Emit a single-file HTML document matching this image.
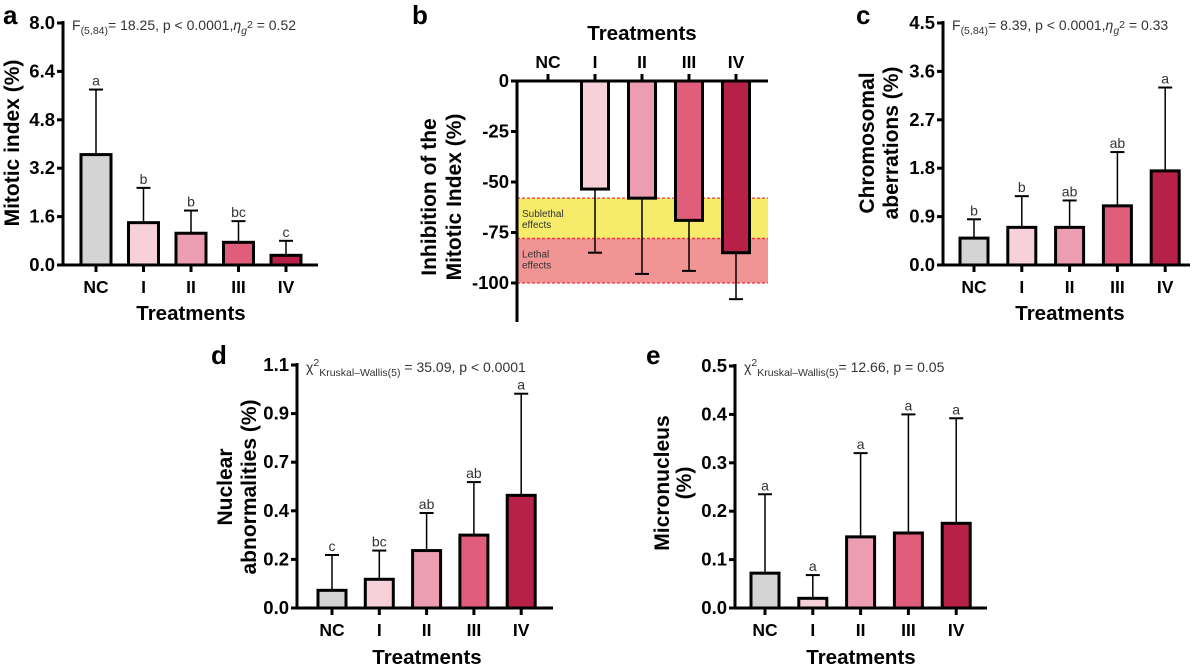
<!DOCTYPE html>
<html><head><meta charset="utf-8">
<style>
html,body{margin:0;padding:0;background:#fff;}
svg{display:block;font-family:"Liberation Sans",Arial,sans-serif;}
</style></head>
<body>
<svg id="fig" width="1200" height="667" viewBox="0 0 1200 667"></svg>
<script>
const cats = ["NC","I","II","III","IV"];
const barColors = ["#d4d4d4","#f6d1da","#ed9db1","#e05d7b","#b82147"];

const aMeans = [3.65,1.4,1.05,0.75,0.32];
const aErrTop = [5.8,2.55,1.8,1.45,0.8];
const aLetters = ["a","b","b","bc","c"];
const aTicks = [0,1.6,3.2,4.8,6.4,8.0];
const aTickLabels = ["0.0","1.6","3.2","4.8","6.4","8.0"];

const bMeans = [0,-53.5,-58,-69,-85];
const bErrBottom = [0,-85,-95.5,-94,-108];
const bTicks = [0,-25,-50,-75,-100];
const bTickLabels = ["0","-25","-50","-75","-100"];
const bSublethal = [-58,-78];
const bLethal = [-78,-100];

const cMeans = [0.5,0.7,0.7,1.1,1.75];
const cErrTop = [0.85,1.28,1.2,2.1,3.3];
const cLetters = ["b","b","ab","ab","a"];
const cTicks = [0,0.9,1.8,2.7,3.6,4.5];
const cTickLabels = ["0.0","0.9","1.8","2.7","3.6","4.5"];

const dMeans = [0.08,0.13,0.26,0.33,0.51];
const dErrTop = [0.24,0.26,0.43,0.57,0.97];
const dLetters = ["c","bc","ab","ab","a"];
const dTicks = [0,0.22,0.44,0.66,0.88,1.1];
const dTickLabels = ["0.0","0.2","0.4","0.7","0.9","1.1"];

const eMeans = [0.072,0.02,0.147,0.155,0.175];
const eErrTop = [0.235,0.068,0.32,0.40,0.392];
const eLetters = ["a","a","a","a","a"];
const eTicks = [0,0.1,0.2,0.3,0.4,0.5];
const eTickLabels = ["0.0","0.1","0.2","0.3","0.4","0.5"];

const NS = "http://www.w3.org/2000/svg";
const svg = document.getElementById("fig");
function mk(tag, attrs, parent){
  const el = document.createElementNS(NS, tag);
  for (const k in attrs) el.setAttribute(k, attrs[k]);
  (parent||svg).appendChild(el);
  return el;
}
function txt(x,y,s,size,weight,anchor,parent,fill){
  const t = mk("text",{x:x,y:y,"font-size":size,"font-weight":weight||"normal","text-anchor":anchor||"middle",fill:fill||"#000"},parent);
  t.textContent = s;
  return t;
}

function drawPanel(p){
  const g = mk("g",{});
  
  
  const y = v => p.yA + (v - p.vA)/(p.vB - p.vA)*(p.yB - p.yA);
  const xc = i => p.c0 + i*p.step;
  const y0 = y(0);
  if (p.bands){
    p.bands.forEach(b=>{
      const r = mk("rect",{x:p.axisX,y:y(b.range[0]),width:p.xEnd-p.axisX,height:y(b.range[1])-y(b.range[0]),fill:b.fill},g);
      
      
      [b.range[0],b.range[1]].forEach(v=>{
        const l = mk("line",{x1:p.axisX,x2:p.xEnd,y1:y(v),y2:y(v),stroke:"#ee3344","stroke-width":1.3,"stroke-dasharray":"3,2"},g);
        
        
      });
      b.label.forEach((s,k)=>{
        const t = txt(p.axisX+5, y(b.range[0]) + 19 + k*11, s, 10, "normal", "start", g, "#333");
        
        
      });
    });
  }
  for (let i=0;i<cats.length;i++){
    const m = p.means[i];
    if (m===0 && p.skipZero) continue;
    const top = Math.min(y(m), y0), h = Math.abs(y(m)-y0);
    const r = mk("rect",{x:xc(i)-p.bw/2,y:top,width:p.bw,height:h,fill:barColors[i],stroke:"#000","stroke-width":3},g);
    
    
    const ev = p.errs[i];
    const el = mk("line",{x1:xc(i),x2:xc(i),y1:y(m),y2:y(ev),stroke:"#000","stroke-width":1.5},g);
    
    
    const cap = mk("line",{x1:xc(i)-7,x2:xc(i)+7,y1:y(ev),y2:y(ev),stroke:"#000","stroke-width":2},g);
    
    
    if (p.letters){
      const t = txt(xc(i), y(ev)-4, p.letters[i], 14, "normal", "middle", g, "#333");
      
      
    }
  }
  const ya = mk("line",{x1:p.axisX,x2:p.axisX,y1:p.axisTop,y2:p.axisBottom,stroke:"#000","stroke-width":3},g);
  
  
  const xa = mk("line",{x1:p.axisX-6,x2:p.xEnd,y1:y0,y2:y0,stroke:"#000","stroke-width":3},g);
  
  
  p.ticks.forEach((v,k)=>{
    const tk = mk("line",{x1:p.axisX-6,x2:p.axisX,y1:y(v),y2:y(v),stroke:"#000","stroke-width":3},g);
    
    
    const t = txt(p.axisX-8, y(v)+6, p.tickLabels[k], 18.5, "bold", "end", g);
    
    
  });
  const dir = p.top ? -1 : 1;
  for (let i=0;i<cats.length;i++){
    const tk = mk("line",{x1:xc(i),x2:xc(i),y1:y0,y2:y0+dir*7,stroke:"#000","stroke-width":3},g);
    
    
    const t = txt(xc(i), p.top ? y0-13 : y0+28, cats[i], 17.5, "bold", "middle", g);
    
    
  }
  const xt = txt(p.xTitleX, p.xTitleY, "Treatments", 20.5, "bold", "middle", g);
  
  
  p.yTitle.forEach((s,k)=>{
    const t = txt(0,0,s,21,"bold","middle",g);
    t.setAttribute("transform","translate("+p.yTitleX[k]+","+p.yTitleY+") rotate(-90)");
    
    
  });
  const pl = txt(p.letterX, p.letterY, p.letter, 26, "bold", "start", g);
  
  
  if (p.stat){
    const st = mk("text",{x:p.axisX+9,y:p.statY,"font-size":14,fill:"#333"},g);
    
    
    p.stat.forEach(seg=>{
      const ts = mk("tspan",{},st);
      if (seg.sub){ ts.setAttribute("font-size","10.5"); ts.setAttribute("dy","4"); }
      if (seg.sup){ ts.setAttribute("font-size","10.5"); ts.setAttribute("dy","-6"); }
      if (seg.back){ ts.setAttribute("dy", seg.back); }
      if (seg.it){ ts.setAttribute("font-style","italic"); }
      ts.textContent = seg.t;
    });
  }
}

drawPanel({name:"panel-a-mitotic-index",yA:265,vA:0,yB:23,vB:8,c0:96,step:47.5,bw:30,axisX:63,xEnd:318,axisTop:21,axisBottom:266,
  means:aMeans,errs:aErrTop,letters:aLetters,ticks:aTicks,tickLabels:aTickLabels,xTitleX:191,xTitleY:320,
  yTitle:["Mitotic index (%)"],yTitleX:[19],yTitleY:143,letter:"a",letterX:3,letterY:24,statY:30,
  stat:[{t:"F"},{t:"(5,84)",sub:1},{t:"= 18.25, p < 0.0001,",back:-4},{t:"η",it:1},{t:"g",sub:1,it:1},{t:"2",sup:1},{t:" = 0.52",back:2}]});

drawPanel({name:"panel-b-inhibition",yA:81,vA:0,yB:283,vB:-100,c0:548,step:47,bw:27,axisX:517,xEnd:768,axisTop:80,axisBottom:322,top:true,skipZero:true,
  means:bMeans,errs:bErrBottom,letters:null,ticks:bTicks,tickLabels:bTickLabels,xTitleX:642,xTitleY:40,
  yTitle:["Inhibition of the","Mitotic Index (%)"],yTitleX:[436,461],yTitleY:197,letter:"b",letterX:412,letterY:24,
  bands:[{name:"sublethal-band",range:bSublethal,fill:"#f7ec6a",label:["Sublethal","effects"]},
         {name:"lethal-band",range:bLethal,fill:"#f19494",label:["Lethal","effects"]}]});

drawPanel({name:"panel-c-chromosomal-aberrations",yA:265,vA:0,yB:23,vB:4.5,c0:974,step:47.8,bw:28,axisX:943,xEnd:1190,axisTop:21,axisBottom:266,
  means:cMeans,errs:cErrTop,letters:cLetters,ticks:cTicks,tickLabels:cTickLabels,xTitleX:1070,xTitleY:320,
  yTitle:["Chromosomal","aberrations (%)"],yTitleX:[874,898],yTitleY:143,letter:"c",letterX:856,letterY:24,statY:30,
  stat:[{t:"F"},{t:"(5,84)",sub:1},{t:"= 8.39, p < 0.0001,",back:-4},{t:"η",it:1},{t:"g",sub:1,it:1},{t:"2",sup:1},{t:" = 0.33",back:2}]});

drawPanel({name:"panel-d-nuclear-abnormalities",yA:608,vA:0,yB:365,vB:1.1,c0:332,step:47.3,bw:28,axisX:297,xEnd:553,axisTop:363,axisBottom:609,
  means:dMeans,errs:dErrTop,letters:dLetters,ticks:dTicks,tickLabels:dTickLabels,xTitleX:427,xTitleY:664,
  yTitle:["Nuclear","abnormalities (%)"],yTitleX:[232,256],yTitleY:487,letter:"d",letterX:211,letterY:364,statY:372,
  stat:[{t:"χ"},{t:"2",sup:1},{t:"Kruskal–Wallis(5)",sub:1,back:10},{t:" = 35.09, p < 0.0001",back:-4}]});

drawPanel({name:"panel-e-micronucleus",yA:608,vA:0,yB:366,vB:0.5,c0:765,step:47.8,bw:28,axisX:735,xEnd:987,axisTop:364,axisBottom:609,
  means:eMeans,errs:eErrTop,letters:eLetters,ticks:eTicks,tickLabels:eTickLabels,xTitleX:861,xTitleY:664,
  yTitle:["Micronucleus","(%)"],yTitleX:[669,691],yTitleY:483,letter:"e",letterX:646,letterY:364,statY:372,
  stat:[{t:"χ"},{t:"2",sup:1},{t:"Kruskal–Wallis(5)",sub:1,back:10},{t:"= 12.66, p = 0.05",back:-4}]});
</script>
</body></html>
